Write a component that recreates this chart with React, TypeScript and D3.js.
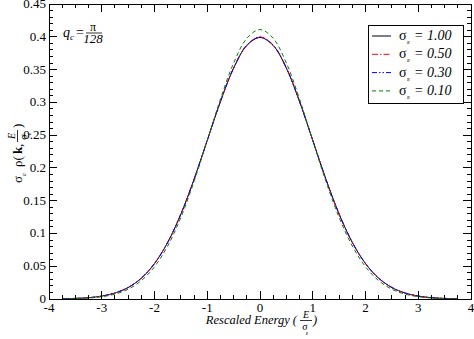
import React from 'react';
import * as d3 from 'd3';

// energy grid (E / sigma)
const energies = [
  -3.75, -3.5, -3.25, -3, -2.75, -2.5, -2.25, -2, -1.75, -1.5, -1.25, -1, -0.75, -0.5, -0.25,
  0,
  0.25, 0.5, 0.75, 1, 1.25, 1.5, 1.75, 2, 2.25, 2.5, 2.75, 3, 3.25, 3.5, 3.75,
];

const rho100 = [
  0.0004, 0.0009, 0.0020, 0.0044, 0.0091, 0.0175, 0.0317, 0.0540, 0.0863, 0.1295, 0.1826, 0.2420, 0.3011, 0.3521, 0.3867,
  0.3989,
  0.3867, 0.3521, 0.3011, 0.2420, 0.1826, 0.1295, 0.0863, 0.0540, 0.0317, 0.0175, 0.0091, 0.0044, 0.0020, 0.0009, 0.0004,
];
const rho050 = [
  0.0004, 0.0009, 0.0020, 0.0044, 0.0090, 0.0174, 0.0316, 0.0540, 0.0864, 0.1297, 0.1829, 0.2424, 0.3017, 0.3528, 0.3876,
  0.3999,
  0.3876, 0.3528, 0.3017, 0.2424, 0.1829, 0.1297, 0.0864, 0.0540, 0.0316, 0.0174, 0.0090, 0.0044, 0.0020, 0.0009, 0.0004,
];
const rho030 = [
  0.0004, 0.0009, 0.0020, 0.0045, 0.0092, 0.0176, 0.0318, 0.0541, 0.0863, 0.1294, 0.1824, 0.2418, 0.3010, 0.3522, 0.3869,
  0.3992,
  0.3869, 0.3522, 0.3010, 0.2418, 0.1824, 0.1294, 0.0863, 0.0541, 0.0318, 0.0176, 0.0092, 0.0045, 0.0020, 0.0009, 0.0004,
];
const rho010 = [
  0.0002, 0.0006, 0.0015, 0.0035, 0.0074, 0.0149, 0.0280, 0.0492, 0.0809, 0.1245, 0.1793, 0.2417, 0.3049, 0.3599, 0.3976,
  0.4110,
  0.3976, 0.3599, 0.3049, 0.2417, 0.1793, 0.1245, 0.0809, 0.0492, 0.0280, 0.0149, 0.0074, 0.0035, 0.0015, 0.0006, 0.0002,
];

const legendLabels = ['1.00', '0.50', '0.30', '0.10'];
const xTickLabels = ['-4', '-3', '-2', '-1', '0', '1', '2', '3', '4'];
const yTickLabels = ['0', '0.05', '0.1', '0.15', '0.2', '0.25', '0.3', '0.35', '0.4', '0.45'];

const W = 474;
const H = 339;
const margin = { top: 4, right: 3, bottom: 40, left: 49 };
const FONT = "'Liberation Serif', 'DejaVu Serif', serif";

export default function App() {
  const x = d3.scaleLinear().domain([-4, 4]).range([margin.left, W - margin.right]);
  const y = d3.scaleLinear().domain([0, 0.45]).range([H - margin.bottom, margin.top]);

  const line = d3.line<number>()
    .x((_, i) => x(energies[i]))
    .y(d => y(d))
    .curve(d3.curveCatmullRom);

  const series = [
    { values: rho100, color: '#000000', dash: '' },
    { values: rho050, color: '#ff0000', dash: '6,2,1.5,2' },
    { values: rho030, color: '#0000ff', dash: '5,2,1.5,2,1.5,2' },
    { values: rho010, color: '#008000', dash: '4,3' },
  ];

  const x0 = margin.left, x1 = W - margin.right;
  const y0 = H - margin.bottom, y1 = margin.top;

  const xMajor = xTickLabels.map(Number);
  const xMinor = d3.range(-4, 4.001, 0.25).filter(v => Math.abs(v - Math.round(v)) > 1e-6);
  const yMajor = yTickLabels.map(Number);
  const yMinor = d3.range(0, 0.4501, 0.01).filter(v => Math.abs(v / 0.05 - Math.round(v / 0.05)) > 1e-6);

  const tickLines: React.ReactNode[] = [];
  xMajor.forEach((v, i) => {
    tickLines.push(<line key={'xb' + i} x1={x(v)} x2={x(v)} y1={y0} y2={y0 - 8} />);
    tickLines.push(<line key={'xt' + i} x1={x(v)} x2={x(v)} y1={y1} y2={y1 + 8} />);
  });
  xMinor.forEach((v, i) => {
    tickLines.push(<line key={'xmb' + i} x1={x(v)} x2={x(v)} y1={y0} y2={y0 - 4} />);
    tickLines.push(<line key={'xmt' + i} x1={x(v)} x2={x(v)} y1={y1} y2={y1 + 4} />);
  });
  yMajor.forEach((v, i) => {
    tickLines.push(<line key={'yl' + i} x1={x0} x2={x0 + 8} y1={y(v)} y2={y(v)} />);
    tickLines.push(<line key={'yr' + i} x1={x1} x2={x1 - 8} y1={y(v)} y2={y(v)} />);
  });
  yMinor.forEach((v, i) => {
    tickLines.push(<line key={'yml' + i} x1={x0} x2={x0 + 4} y1={y(v)} y2={y(v)} />);
    tickLines.push(<line key={'ymr' + i} x1={x1} x2={x1 - 4} y1={y(v)} y2={y(v)} />);
  });

  const legX = 368, legY = 25, legW = 95, legH = 78;
  const rowY = (i: number) => legY + 11 + i * 18.3;

  return (
    <svg width={W} height={H} style={{ position: 'absolute', left: 0, top: 0, background: '#fff' }}
      fontFamily={FONT}>
      <rect x={0} y={0} width={W} height={H} fill="#fff" />

      {/* curves */}
      {series.map((s, i) => (
        <path key={i} d={line(s.values) || ''} fill="none" stroke={s.color} strokeWidth={1}
          strokeDasharray={s.dash || undefined} />
      ))}

      {/* frame + ticks */}
      <g stroke="#000" strokeWidth={1} shapeRendering="crispEdges">
        {tickLines}
        <rect x={x0} y={y1} width={x1 - x0} height={y0 - y1} fill="none" />
      </g>

      {/* tick labels */}
      {xTickLabels.map((t, i) => (
        <text key={'xl' + i} x={x(Number(t))} y={y0 + 13} fontSize={13} textAnchor="middle">{t}</text>
      ))}
      {yTickLabels.map((t, i) => (
        <text key={'yll' + i} x={x0 - 3} y={y(Number(t)) + 4} fontSize={13} textAnchor="end">{t}</text>
      ))}

      {/* x axis title */}
      <g fontSize={12.5}>
        <text x={297} y={324} textAnchor="end" fontStyle="italic">Rescaled Energy (</text>
        <text x={306} y={318} textAnchor="middle" fontStyle="italic" fontSize={10}>E</text>
        <line x1={300} x2={312} y1={320.5} y2={320.5} stroke="#000" strokeWidth={0.8} />
        <text x={305} y={330} textAnchor="middle" fontSize={10}>σ</text>
        <text x={307} y={335} textAnchor="middle" fontSize={6}>ε</text>
        <text x={313} y={324} fontStyle="italic">)</text>
      </g>

      {/* y axis title */}
      <g transform="translate(18,152) rotate(-90)" fontSize={13}>
        <text x={-31} y={4}>σ</text>
        <text x={-24} y={8} fontSize={7}>ε</text>
        <text x={-15} y={4}>ρ(</text>
        <text x={-2} y={4} fontWeight="bold">k</text>
        <text x={5} y={4}>,</text>
        <text x={16} y={-3} textAnchor="middle" fontStyle="italic" fontSize={10}>E</text>
        <line x1={10} x2={22} y1={-0.5} y2={-0.5} stroke="#000" strokeWidth={0.8} />
        <text x={15} y={9} textAnchor="middle" fontSize={10}>σ</text>
        <text x={18} y={13} textAnchor="middle" fontSize={6}>ε</text>
        <text x={24} y={4}>)</text>
      </g>

      {/* annotation q_c = pi/128 */}
      <g fontSize={14}>
        <text x={63} y={37} fontStyle="italic">q</text>
        <text x={70} y={40} fontStyle="italic" fontSize={9}>c</text>
        <text x={76} y={37}>=</text>
        <text x={93} y={31} textAnchor="middle" fontSize={12}>π</text>
        <line x1={86} x2={102} y1={33} y2={33} stroke="#000" strokeWidth={0.8} />
        <text x={93} y={43} textAnchor="middle" fontStyle="italic" fontSize={13}>128</text>
      </g>

      {/* legend */}
      <rect x={legX} y={legY} width={legW} height={legH} fill="#fff" stroke="#000" strokeWidth={1}
        shapeRendering="crispEdges" />
      {series.map((s, i) => (
        <g key={'leg' + i}>
          <line x1={372} x2={391} y1={rowY(i)} y2={rowY(i)} stroke={s.color} strokeWidth={1}
            strokeDasharray={s.dash || undefined} />
          <text x={399} y={rowY(i) + 4} fontSize={14}>σ</text>
          <text x={407} y={rowY(i) + 8} fontSize={7}>ε</text>
          <text x={414} y={rowY(i) + 4} fontSize={14} fontStyle="italic">= {legendLabels[i]}</text>
        </g>
      ))}
    </svg>
  );
}
